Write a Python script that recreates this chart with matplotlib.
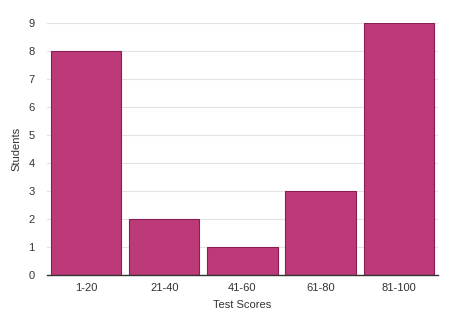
import matplotlib
matplotlib.use("Agg")
import matplotlib.pyplot as plt

plt.rcParams['font.family'] = ['Liberation Sans', 'DejaVu Sans']

categories = ["1-20", "21-40", "41-60", "61-80", "81-100"]
students = [8, 2, 1, 3, 9]

fig = plt.figure(figsize=(4.5, 3.18), dpi=100)
ax = fig.add_axes([0.1044, 0.1352, 0.8686, 0.7925])

x = range(len(categories))
ax.bar(x, students, width=0.9, color="#BC3A78", edgecolor="#8A1E52", linewidth=0.8, zorder=3)

ax.set_xlim(-0.5, len(categories) - 0.5)
ax.set_ylim(0, 9)
ax.set_yticks(range(0, 10))
ax.set_xticks(list(x))
ax.set_xticklabels(categories)

ax.grid(axis="y", color="#e3e3e3", linewidth=0.8, zorder=0)
for s in ["top", "right", "left"]:
    ax.spines[s].set_visible(False)
ax.spines["bottom"].set_color("#333333")
ax.spines["bottom"].set_linewidth(1.0)
ax.spines["bottom"].set_zorder(4)
ax.tick_params(axis="both", length=0, labelsize=8, colors="#333333")
ax.tick_params(axis="x", pad=6)
ax.tick_params(axis="y", pad=9)

ax.set_xlabel("Test Scores", fontsize=8, color="#333333", labelpad=5)
ax.set_ylabel("Students", fontsize=8, color="#333333", labelpad=5)

fig.savefig("out.png", dpi=100)
